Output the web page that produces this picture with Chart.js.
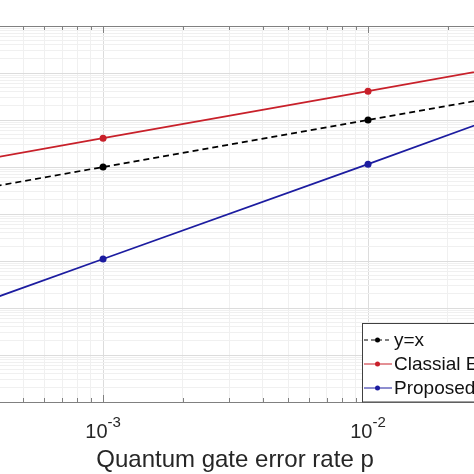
<!DOCTYPE html>
<html>
<head>
<meta charset="utf-8">
<script src="https://cdn.jsdelivr.net/npm/chart.js@4.4.1/dist/chart.umd.min.js"></script>
<style>
  html, body { margin: 0; padding: 0; background: #fff; }
  canvas { display: block; }
</style>
</head>
<body>
<canvas id="chart" width="474" height="474"></canvas>
<script>
// values (log-log)
const errorRates = [1e-4, 1e-3, 1e-2, 1e-1];
const identityLine = [1e-4, 1e-3, 1e-2, 1e-1];
const classicalBound = [4.0e-4, 4.1e-3, 4.1e-2, 0.42];
const proposedBound = [1.05e-7, 1.1e-5, 1.15e-3, 0.13];
const seriesLabels = ["y=x", "Classial ECC", "Proposed ECC"];
const xTickExponents = [-3, -2];
const xAxisTitle = "Quantum gate error rate p";

// visible window of the axes (picture is cropped)
const X_MIN = Math.pow(10, -3.389);
const X_MAX = Math.pow(10, -1.6);
const Y_MIN = 1e-8;
const Y_MAX = 1;

const FONT = "'Liberation Sans', Arial, Helvetica, sans-serif";
const TEXT = "#262626";

function logTicks(min, max) {
  const out = [];
  const e0 = Math.floor(Math.log10(min));
  const e1 = Math.ceil(Math.log10(max));
  for (let e = e0; e <= e1; e++) {
    for (let k = 1; k <= 9; k++) {
      const v = k * Math.pow(10, e);
      if (v >= min * 0.999 && v <= max * 1.001) out.push({ value: v, major: k === 1 });
    }
  }
  return out;
}

function points(ys) {
  return errorRates.map((p, i) => ({ x: p, y: ys[i] }));
}

const gridColor = ctx => (ctx.tick && ctx.tick.major) ? "#dcdcdc" : "#f0f0f0";

// ticks inside the box, superscript labels, axis title and legend
const axisDecor = {
  id: "axisDecor",
  afterDraw(chart) {
    const ctx = chart.ctx;
    const area = chart.chartArea;
    const xs = chart.scales.x;
    ctx.save();

    // top border
    ctx.strokeStyle = "#808080";
    ctx.lineWidth = 1;
    ctx.beginPath();
    ctx.moveTo(area.left, area.top + 0.5);
    ctx.lineTo(area.right, area.top + 0.5);
    ctx.stroke();

    // inward tick marks top and bottom
    xs.ticks.forEach(t => {
      const px = Math.round(xs.getPixelForValue(t.value)) + 0.5;
      const len = t.major ? 7 : 4;
      ctx.beginPath();
      ctx.moveTo(px, area.top);
      ctx.lineTo(px, area.top + len);
      ctx.moveTo(px, area.bottom);
      ctx.lineTo(px, area.bottom - len);
      ctx.stroke();
    });

    // tick labels 10^n
    ctx.fillStyle = TEXT;
    ctx.textBaseline = "alphabetic";
    ctx.textAlign = "left";
    xTickExponents.forEach(e => {
      const px = xs.getPixelForValue(Math.pow(10, e));
      ctx.font = "20px " + FONT;
      const wb = ctx.measureText("10").width;
      ctx.font = "15px " + FONT;
      const we = ctx.measureText(String(e)).width;
      const start = px - (wb + we) / 2;
      ctx.font = "20px " + FONT;
      ctx.fillText("10", start, area.bottom + 36);
      ctx.font = "15px " + FONT;
      ctx.fillText(String(e), start + wb, area.bottom + 25);
    });

    // axis title
    ctx.font = "24px " + FONT;
    ctx.textAlign = "center";
    ctx.fillText(xAxisTitle, (area.left + area.right) / 2 - 2, area.bottom + 65);

    // legend
    const lx = 362.5, ly = 323.5;
    ctx.fillStyle = "#fff";
    ctx.fillRect(lx, ly, 200, area.bottom - ly);
    ctx.strokeStyle = "#404040";
    ctx.strokeRect(lx, ly, 200, area.bottom - ly);
    ctx.font = "19px " + FONT;
    ctx.textAlign = "left";
    ctx.textBaseline = "middle";
    chart.data.datasets.forEach((ds, i) => {
      const y = 340 + 24 * i;
      ctx.strokeStyle = ds.borderColor;
      ctx.lineWidth = 1;
      ctx.setLineDash(ds.borderDash ? [4, 3] : []);
      ctx.beginPath();
      ctx.moveTo(364, y);
      ctx.lineTo(392, y);
      ctx.stroke();
      ctx.setLineDash([]);
      ctx.fillStyle = ds.borderColor;
      ctx.beginPath();
      ctx.arc(377.5, y, 2.5, 0, Math.PI * 2);
      ctx.fill();
      ctx.fillStyle = "#111";
      ctx.fillText(ds.label, 394, y + 1);
    });
    ctx.restore();
  }
};

new Chart(document.getElementById("chart"), {
  type: "line",
  data: {
    datasets: [
      {
        label: seriesLabels[0],
        data: points(identityLine),
        borderColor: "#000000",
        backgroundColor: "#000000",
        borderDash: [6, 4],
        borderWidth: 1.7,
        pointRadius: 3.5,
        pointBorderWidth: 0
      },
      {
        label: seriesLabels[1],
        data: points(classicalBound),
        borderColor: "#c8202a",
        backgroundColor: "#c8202a",
        borderWidth: 1.7,
        pointRadius: 3.5,
        pointBorderWidth: 0
      },
      {
        label: seriesLabels[2],
        data: points(proposedBound),
        borderColor: "#1c1ca0",
        backgroundColor: "#1c1ca0",
        borderWidth: 1.7,
        pointRadius: 3.5,
        pointBorderWidth: 0
      }
    ]
  },
  options: {
    responsive: false,
    animation: false,
    devicePixelRatio: 1,
    layout: { autoPadding: false, padding: { top: 26, bottom: 72, left: 0, right: 0 } },
    plugins: { legend: { display: false }, tooltip: { enabled: false } },
    scales: {
      x: {
        type: "logarithmic",
        min: X_MIN,
        max: X_MAX,
        afterBuildTicks: s => { s.ticks = logTicks(X_MIN, X_MAX); },
        ticks: { display: false },
        grid: { drawTicks: false, color: gridColor, lineWidth: 1 },
        border: { display: true, color: "#808080" }
      },
      y: {
        type: "logarithmic",
        min: Y_MIN,
        max: Y_MAX,
        afterBuildTicks: s => { s.ticks = logTicks(Y_MIN, Y_MAX); },
        ticks: { display: false },
        grid: { drawTicks: false, color: gridColor, lineWidth: 1 },
        border: { display: false }
      }
    }
  },
  plugins: [axisDecor]
});
</script>
</body>
</html>
